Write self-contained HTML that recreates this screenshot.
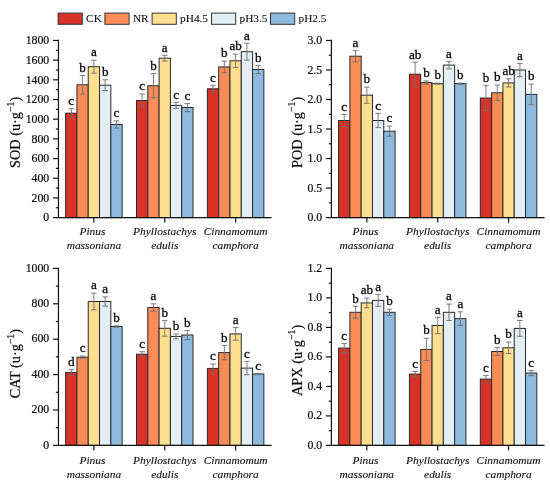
<!DOCTYPE html>
<html><head><meta charset="utf-8"><style>
html,body{margin:0;padding:0;background:#fff;}
svg{display:block;filter:blur(0.35px);}
text{font-family:"Liberation Serif",serif;fill:#0a0a0a;stroke:#0a0a0a;stroke-width:0.2px;}
.t{font-size:11.8px;text-anchor:end;}
.l{stroke-width:0.3px;font-size:13.1px;text-anchor:middle;}
.c{stroke-width:0.1px;font-size:11.4px;text-anchor:middle;font-style:italic;}
.y{font-size:14.3px;text-anchor:middle;}
.g{stroke-width:0.08px;font-size:11.3px;}
</style></head><body>
<svg width="550" height="486" viewBox="0 0 550 486">
<rect x="65.63" y="113.2" width="11.3" height="104.4" fill="#d93229" stroke="#2a2a2a" stroke-width="1.0"/>
<rect x="76.93" y="84.8" width="11.3" height="132.8" fill="#fb8c58" stroke="#2a2a2a" stroke-width="1.0"/>
<rect x="88.23" y="66.7" width="11.3" height="150.9" fill="#fedf8f" stroke="#2a2a2a" stroke-width="1.0"/>
<rect x="99.53" y="85.2" width="11.3" height="132.4" fill="#e3eef5" stroke="#2a2a2a" stroke-width="1.0"/>
<rect x="110.83" y="124.5" width="11.3" height="93.1" fill="#8dbade" stroke="#2a2a2a" stroke-width="1.0"/>
<path d="M71.28 108.8V117.6M68.48 108.8H74.08M68.48 117.6H74.08" stroke="#6e6e6e" stroke-width="0.9" fill="none"/>
<text x="71.28" y="105" class="l">c</text>
<path d="M82.58 75.5V94.1M79.78 75.5H85.38M79.78 94.1H85.38" stroke="#6e6e6e" stroke-width="0.9" fill="none"/>
<text x="82.58" y="71.7" class="l">b</text>
<path d="M93.88 60.2V73.2M91.08 60.2H96.68M91.08 73.2H96.68" stroke="#6e6e6e" stroke-width="0.9" fill="none"/>
<text x="93.88" y="56.4" class="l">a</text>
<path d="M105.18 79.8V90.6M102.38 79.8H107.98M102.38 90.6H107.98" stroke="#6e6e6e" stroke-width="0.9" fill="none"/>
<text x="105.18" y="76" class="l">b</text>
<path d="M116.48 120.9V128.1M113.68 120.9H119.28M113.68 128.1H119.28" stroke="#6e6e6e" stroke-width="0.9" fill="none"/>
<text x="116.48" y="117.1" class="l">c</text>
<rect x="136.5" y="100.5" width="11.3" height="117.1" fill="#d93229" stroke="#2a2a2a" stroke-width="1.0"/>
<rect x="147.8" y="85.7" width="11.3" height="131.9" fill="#fb8c58" stroke="#2a2a2a" stroke-width="1.0"/>
<rect x="159.1" y="58.2" width="11.3" height="159.4" fill="#fedf8f" stroke="#2a2a2a" stroke-width="1.0"/>
<rect x="170.4" y="105.4" width="11.3" height="112.2" fill="#e3eef5" stroke="#2a2a2a" stroke-width="1.0"/>
<rect x="181.7" y="107.5" width="11.3" height="110.1" fill="#8dbade" stroke="#2a2a2a" stroke-width="1.0"/>
<path d="M142.15 94V107M139.35 94H144.95M139.35 107H144.95" stroke="#6e6e6e" stroke-width="0.9" fill="none"/>
<text x="142.15" y="90.2" class="l">c</text>
<path d="M153.45 73.6V97.8M150.65 73.6H156.25M150.65 97.8H156.25" stroke="#6e6e6e" stroke-width="0.9" fill="none"/>
<text x="153.45" y="69.8" class="l">b</text>
<path d="M164.75 55.3V61.1M161.95 55.3H167.55M161.95 61.1H167.55" stroke="#6e6e6e" stroke-width="0.9" fill="none"/>
<text x="164.75" y="51.5" class="l">a</text>
<path d="M176.05 102.3V108.5M173.25 102.3H178.85M173.25 108.5H178.85" stroke="#6e6e6e" stroke-width="0.9" fill="none"/>
<text x="176.05" y="98.5" class="l">c</text>
<path d="M187.35 103.4V111.6M184.55 103.4H190.15M184.55 111.6H190.15" stroke="#6e6e6e" stroke-width="0.9" fill="none"/>
<text x="187.35" y="99.6" class="l">c</text>
<rect x="207.37" y="88.8" width="11.3" height="128.8" fill="#d93229" stroke="#2a2a2a" stroke-width="1.0"/>
<rect x="218.67" y="66.9" width="11.3" height="150.7" fill="#fb8c58" stroke="#2a2a2a" stroke-width="1.0"/>
<rect x="229.97" y="60.8" width="11.3" height="156.8" fill="#fedf8f" stroke="#2a2a2a" stroke-width="1.0"/>
<rect x="241.27" y="51.7" width="11.3" height="165.9" fill="#e3eef5" stroke="#2a2a2a" stroke-width="1.0"/>
<rect x="252.57" y="69.5" width="11.3" height="148.1" fill="#8dbade" stroke="#2a2a2a" stroke-width="1.0"/>
<path d="M213.02 85.3V92.3M210.22 85.3H215.82M210.22 92.3H215.82" stroke="#6e6e6e" stroke-width="0.9" fill="none"/>
<text x="213.02" y="81.5" class="l">c</text>
<path d="M224.32 61.1V72.7M221.52 61.1H227.12M221.52 72.7H227.12" stroke="#6e6e6e" stroke-width="0.9" fill="none"/>
<text x="224.32" y="57.3" class="l">b</text>
<path d="M235.62 54.2V67.4M232.82 54.2H238.42M232.82 67.4H238.42" stroke="#6e6e6e" stroke-width="0.9" fill="none"/>
<text x="235.62" y="50.4" class="l">ab</text>
<path d="M246.92 43.3V60.1M244.12 43.3H249.72M244.12 60.1H249.72" stroke="#6e6e6e" stroke-width="0.9" fill="none"/>
<text x="246.92" y="39.5" class="l">a</text>
<path d="M258.22 65.4V73.6M255.42 65.4H261.02M255.42 73.6H261.02" stroke="#6e6e6e" stroke-width="0.9" fill="none"/>
<text x="258.22" y="61.6" class="l">b</text>
<path d="M58.45 40.45V217.6H271.05" stroke="#111" stroke-width="1.2" fill="none" stroke-linecap="square"/>
<path d="M52.95 217.6H58.45" stroke="#111" stroke-width="1.2"/>
<text x="49.25" y="221.4" class="t">0</text>
<path d="M55.85 207.76H58.45" stroke="#111" stroke-width="1.2"/>
<path d="M52.95 197.92H58.45" stroke="#111" stroke-width="1.2"/>
<text x="49.25" y="201.72" class="t">200</text>
<path d="M55.85 188.07H58.45" stroke="#111" stroke-width="1.2"/>
<path d="M52.95 178.23H58.45" stroke="#111" stroke-width="1.2"/>
<text x="49.25" y="182.03" class="t">400</text>
<path d="M55.85 168.39H58.45" stroke="#111" stroke-width="1.2"/>
<path d="M52.95 158.55H58.45" stroke="#111" stroke-width="1.2"/>
<text x="49.25" y="162.35" class="t">600</text>
<path d="M55.85 148.71H58.45" stroke="#111" stroke-width="1.2"/>
<path d="M52.95 138.87H58.45" stroke="#111" stroke-width="1.2"/>
<text x="49.25" y="142.67" class="t">800</text>
<path d="M55.85 129.03H58.45" stroke="#111" stroke-width="1.2"/>
<path d="M52.95 119.18H58.45" stroke="#111" stroke-width="1.2"/>
<text x="49.25" y="122.98" class="t">1000</text>
<path d="M55.85 109.34H58.45" stroke="#111" stroke-width="1.2"/>
<path d="M52.95 99.5H58.45" stroke="#111" stroke-width="1.2"/>
<text x="49.25" y="103.3" class="t">1200</text>
<path d="M55.85 89.66H58.45" stroke="#111" stroke-width="1.2"/>
<path d="M52.95 79.82H58.45" stroke="#111" stroke-width="1.2"/>
<text x="49.25" y="83.62" class="t">1400</text>
<path d="M55.85 69.98H58.45" stroke="#111" stroke-width="1.2"/>
<path d="M52.95 60.13H58.45" stroke="#111" stroke-width="1.2"/>
<text x="49.25" y="63.93" class="t">1600</text>
<path d="M55.85 50.29H58.45" stroke="#111" stroke-width="1.2"/>
<path d="M52.95 40.45H58.45" stroke="#111" stroke-width="1.2"/>
<text x="49.25" y="44.25" class="t">1800</text>
<path d="M93.88 217.6V222.6" stroke="#111" stroke-width="1.2"/>
<text x="92.48" y="235.3" class="c">Pinus</text>
<text x="93.88" y="249.2" class="c">massoniana</text>
<path d="M164.75 217.6V222.6" stroke="#111" stroke-width="1.2"/>
<text x="164.75" y="235.3" class="c">Phyllostachys</text>
<text x="164.75" y="249.2" class="c">edulis</text>
<path d="M235.62 217.6V222.6" stroke="#111" stroke-width="1.2"/>
<text x="235.62" y="235.3" class="c">Cinnamomum</text>
<text x="235.62" y="249.2" class="c">camphora</text>
<text transform="translate(20.35 132.45) rotate(-90)" class="y">SOD (u·g<tspan dy="-6.3" font-size="9.8">−1</tspan><tspan dy="6.3">)</tspan></text>
<rect x="338.58" y="120.5" width="11.3" height="97.1" fill="#d93229" stroke="#2a2a2a" stroke-width="1.0"/>
<rect x="349.88" y="56.2" width="11.3" height="161.4" fill="#fb8c58" stroke="#2a2a2a" stroke-width="1.0"/>
<rect x="361.18" y="95.2" width="11.3" height="122.4" fill="#fedf8f" stroke="#2a2a2a" stroke-width="1.0"/>
<rect x="372.48" y="120.5" width="11.3" height="97.1" fill="#e3eef5" stroke="#2a2a2a" stroke-width="1.0"/>
<rect x="383.78" y="131.2" width="11.3" height="86.4" fill="#8dbade" stroke="#2a2a2a" stroke-width="1.0"/>
<path d="M344.23 114.4V126.6M341.43 114.4H347.03M341.43 126.6H347.03" stroke="#6e6e6e" stroke-width="0.9" fill="none"/>
<text x="344.23" y="110.6" class="l">c</text>
<path d="M355.53 50.7V61.7M352.73 50.7H358.33M352.73 61.7H358.33" stroke="#6e6e6e" stroke-width="0.9" fill="none"/>
<text x="355.53" y="46.9" class="l">a</text>
<path d="M366.83 87.1V103.3M364.03 87.1H369.63M364.03 103.3H369.63" stroke="#6e6e6e" stroke-width="0.9" fill="none"/>
<text x="366.83" y="83.3" class="l">b</text>
<path d="M378.13 113.4V127.6M375.33 113.4H380.93M375.33 127.6H380.93" stroke="#6e6e6e" stroke-width="0.9" fill="none"/>
<text x="378.13" y="109.6" class="l">c</text>
<path d="M389.43 126.2V136.2M386.63 126.2H392.23M386.63 136.2H392.23" stroke="#6e6e6e" stroke-width="0.9" fill="none"/>
<text x="389.43" y="122.4" class="l">c</text>
<rect x="409.45" y="74.2" width="11.3" height="143.4" fill="#d93229" stroke="#2a2a2a" stroke-width="1.0"/>
<rect x="420.75" y="82.6" width="11.3" height="135" fill="#fb8c58" stroke="#2a2a2a" stroke-width="1.0"/>
<rect x="432.05" y="83.7" width="11.3" height="133.9" fill="#fedf8f" stroke="#2a2a2a" stroke-width="1.0"/>
<rect x="443.35" y="65.1" width="11.3" height="152.5" fill="#e3eef5" stroke="#2a2a2a" stroke-width="1.0"/>
<rect x="454.65" y="83.7" width="11.3" height="133.9" fill="#8dbade" stroke="#2a2a2a" stroke-width="1.0"/>
<path d="M415.1 62.3V86.1M412.3 62.3H417.9M412.3 86.1H417.9" stroke="#6e6e6e" stroke-width="0.9" fill="none"/>
<text x="415.1" y="58.5" class="l">ab</text>
<path d="M426.4 80.9V84.3M423.6 80.9H429.2M423.6 84.3H429.2" stroke="#6e6e6e" stroke-width="0.9" fill="none"/>
<text x="426.4" y="77.1" class="l">b</text>
<path d="M437.7 83.1V84.3M434.9 83.1H440.5M434.9 84.3H440.5" stroke="#6e6e6e" stroke-width="0.9" fill="none"/>
<text x="437.7" y="79.3" class="l">b</text>
<path d="M449 61.4V68.8M446.2 61.4H451.8M446.2 68.8H451.8" stroke="#6e6e6e" stroke-width="0.9" fill="none"/>
<text x="449" y="57.6" class="l">a</text>
<path d="M460.3 83.1V84.3M457.5 83.1H463.1M457.5 84.3H463.1" stroke="#6e6e6e" stroke-width="0.9" fill="none"/>
<text x="460.3" y="79.3" class="l">b</text>
<rect x="480.32" y="98" width="11.3" height="119.6" fill="#d93229" stroke="#2a2a2a" stroke-width="1.0"/>
<rect x="491.62" y="92.8" width="11.3" height="124.8" fill="#fb8c58" stroke="#2a2a2a" stroke-width="1.0"/>
<rect x="502.92" y="82.9" width="11.3" height="134.7" fill="#fedf8f" stroke="#2a2a2a" stroke-width="1.0"/>
<rect x="514.22" y="70" width="11.3" height="147.6" fill="#e3eef5" stroke="#2a2a2a" stroke-width="1.0"/>
<rect x="525.52" y="94.4" width="11.3" height="123.2" fill="#8dbade" stroke="#2a2a2a" stroke-width="1.0"/>
<path d="M485.97 85.4V110.6M483.17 85.4H488.77M483.17 110.6H488.77" stroke="#6e6e6e" stroke-width="0.9" fill="none"/>
<text x="485.97" y="81.6" class="l">b</text>
<path d="M497.27 85V100.6M494.47 85H500.07M494.47 100.6H500.07" stroke="#6e6e6e" stroke-width="0.9" fill="none"/>
<text x="497.27" y="81.2" class="l">b</text>
<path d="M508.57 78.8V87M505.77 78.8H511.37M505.77 87H511.37" stroke="#6e6e6e" stroke-width="0.9" fill="none"/>
<text x="508.57" y="75" class="l">ab</text>
<path d="M519.87 63.4V76.6M517.07 63.4H522.67M517.07 76.6H522.67" stroke="#6e6e6e" stroke-width="0.9" fill="none"/>
<text x="519.87" y="59.6" class="l">a</text>
<path d="M531.17 84.1V104.7M528.37 84.1H533.97M528.37 104.7H533.97" stroke="#6e6e6e" stroke-width="0.9" fill="none"/>
<text x="531.17" y="80.3" class="l">b</text>
<path d="M331.4 40.45V217.6H544" stroke="#111" stroke-width="1.2" fill="none" stroke-linecap="square"/>
<path d="M325.9 217.6H331.4" stroke="#111" stroke-width="1.2"/>
<text x="322.2" y="221.4" class="t">0.0</text>
<path d="M328.8 202.84H331.4" stroke="#111" stroke-width="1.2"/>
<path d="M325.9 188.07H331.4" stroke="#111" stroke-width="1.2"/>
<text x="322.2" y="191.88" class="t">0.5</text>
<path d="M328.8 173.31H331.4" stroke="#111" stroke-width="1.2"/>
<path d="M325.9 158.55H331.4" stroke="#111" stroke-width="1.2"/>
<text x="322.2" y="162.35" class="t">1.0</text>
<path d="M328.8 143.79H331.4" stroke="#111" stroke-width="1.2"/>
<path d="M325.9 129.03H331.4" stroke="#111" stroke-width="1.2"/>
<text x="322.2" y="132.83" class="t">1.5</text>
<path d="M328.8 114.26H331.4" stroke="#111" stroke-width="1.2"/>
<path d="M325.9 99.5H331.4" stroke="#111" stroke-width="1.2"/>
<text x="322.2" y="103.3" class="t">2.0</text>
<path d="M328.8 84.74H331.4" stroke="#111" stroke-width="1.2"/>
<path d="M325.9 69.98H331.4" stroke="#111" stroke-width="1.2"/>
<text x="322.2" y="73.78" class="t">2.5</text>
<path d="M328.8 55.21H331.4" stroke="#111" stroke-width="1.2"/>
<path d="M325.9 40.45H331.4" stroke="#111" stroke-width="1.2"/>
<text x="322.2" y="44.25" class="t">3.0</text>
<path d="M366.83 217.6V222.6" stroke="#111" stroke-width="1.2"/>
<text x="365.43" y="235.3" class="c">Pinus</text>
<text x="366.83" y="249.2" class="c">massoniana</text>
<path d="M437.7 217.6V222.6" stroke="#111" stroke-width="1.2"/>
<text x="437.7" y="235.3" class="c">Phyllostachys</text>
<text x="437.7" y="249.2" class="c">edulis</text>
<path d="M508.57 217.6V222.6" stroke="#111" stroke-width="1.2"/>
<text x="508.57" y="235.3" class="c">Cinnamomum</text>
<text x="508.57" y="249.2" class="c">camphora</text>
<text transform="translate(301.7 132.4) rotate(-90)" class="y">POD (u·g<tspan dy="-6.3" font-size="9.8">−1</tspan><tspan dy="6.3">)</tspan></text>
<rect x="65.63" y="372.6" width="11.3" height="72.8" fill="#d93229" stroke="#2a2a2a" stroke-width="1.0"/>
<rect x="76.93" y="357.2" width="11.3" height="88.2" fill="#fb8c58" stroke="#2a2a2a" stroke-width="1.0"/>
<rect x="88.23" y="301.5" width="11.3" height="143.9" fill="#fedf8f" stroke="#2a2a2a" stroke-width="1.0"/>
<rect x="99.53" y="301.5" width="11.3" height="143.9" fill="#e3eef5" stroke="#2a2a2a" stroke-width="1.0"/>
<rect x="110.83" y="326.5" width="11.3" height="118.9" fill="#8dbade" stroke="#2a2a2a" stroke-width="1.0"/>
<path d="M71.28 369.8V375.4M68.48 369.8H74.08M68.48 375.4H74.08" stroke="#6e6e6e" stroke-width="0.9" fill="none"/>
<text x="71.28" y="366" class="l">d</text>
<path d="M82.58 356.1V358.3M79.78 356.1H85.38M79.78 358.3H85.38" stroke="#6e6e6e" stroke-width="0.9" fill="none"/>
<text x="82.58" y="352.3" class="l">c</text>
<path d="M93.88 293.2V309.8M91.08 293.2H96.68M91.08 309.8H96.68" stroke="#6e6e6e" stroke-width="0.9" fill="none"/>
<text x="93.88" y="289.4" class="l">a</text>
<path d="M105.18 296.9V306.1M102.38 296.9H107.98M102.38 306.1H107.98" stroke="#6e6e6e" stroke-width="0.9" fill="none"/>
<text x="105.18" y="293.1" class="l">a</text>
<path d="M116.48 325.8V327.2M113.68 325.8H119.28M113.68 327.2H119.28" stroke="#6e6e6e" stroke-width="0.9" fill="none"/>
<text x="116.48" y="322" class="l">b</text>
<rect x="136.5" y="354.2" width="11.3" height="91.2" fill="#d93229" stroke="#2a2a2a" stroke-width="1.0"/>
<rect x="147.8" y="307.5" width="11.3" height="137.9" fill="#fb8c58" stroke="#2a2a2a" stroke-width="1.0"/>
<rect x="159.1" y="328.3" width="11.3" height="117.1" fill="#fedf8f" stroke="#2a2a2a" stroke-width="1.0"/>
<rect x="170.4" y="336.4" width="11.3" height="109" fill="#e3eef5" stroke="#2a2a2a" stroke-width="1.0"/>
<rect x="181.7" y="335" width="11.3" height="110.4" fill="#8dbade" stroke="#2a2a2a" stroke-width="1.0"/>
<path d="M142.15 351.7V356.7M139.35 351.7H144.95M139.35 356.7H144.95" stroke="#6e6e6e" stroke-width="0.9" fill="none"/>
<text x="142.15" y="347.9" class="l">c</text>
<path d="M153.45 303.8V311.2M150.65 303.8H156.25M150.65 311.2H156.25" stroke="#6e6e6e" stroke-width="0.9" fill="none"/>
<text x="153.45" y="300" class="l">a</text>
<path d="M164.75 320.4V336.2M161.95 320.4H167.55M161.95 336.2H167.55" stroke="#6e6e6e" stroke-width="0.9" fill="none"/>
<text x="164.75" y="316.6" class="l">b</text>
<path d="M176.05 333.9V338.9M173.25 333.9H178.85M173.25 338.9H178.85" stroke="#6e6e6e" stroke-width="0.9" fill="none"/>
<text x="176.05" y="330.1" class="l">b</text>
<path d="M187.35 330.4V339.6M184.55 330.4H190.15M184.55 339.6H190.15" stroke="#6e6e6e" stroke-width="0.9" fill="none"/>
<text x="187.35" y="326.6" class="l">b</text>
<rect x="207.37" y="368.4" width="11.3" height="77" fill="#d93229" stroke="#2a2a2a" stroke-width="1.0"/>
<rect x="218.67" y="352.6" width="11.3" height="92.8" fill="#fb8c58" stroke="#2a2a2a" stroke-width="1.0"/>
<rect x="229.97" y="333.9" width="11.3" height="111.5" fill="#fedf8f" stroke="#2a2a2a" stroke-width="1.0"/>
<rect x="241.27" y="368.1" width="11.3" height="77.3" fill="#e3eef5" stroke="#2a2a2a" stroke-width="1.0"/>
<rect x="252.57" y="374" width="11.3" height="71.4" fill="#8dbade" stroke="#2a2a2a" stroke-width="1.0"/>
<path d="M213.02 364V372.8M210.22 364H215.82M210.22 372.8H215.82" stroke="#6e6e6e" stroke-width="0.9" fill="none"/>
<text x="213.02" y="360.2" class="l">c</text>
<path d="M224.32 345.4V359.8M221.52 345.4H227.12M221.52 359.8H227.12" stroke="#6e6e6e" stroke-width="0.9" fill="none"/>
<text x="224.32" y="341.6" class="l">b</text>
<path d="M235.62 327.6V340.2M232.82 327.6H238.42M232.82 340.2H238.42" stroke="#6e6e6e" stroke-width="0.9" fill="none"/>
<text x="235.62" y="323.8" class="l">a</text>
<path d="M246.92 361.4V374.8M244.12 361.4H249.72M244.12 374.8H249.72" stroke="#6e6e6e" stroke-width="0.9" fill="none"/>
<text x="246.92" y="357.6" class="l">c</text>
<path d="M258.22 373.3V374.7M255.42 373.3H261.02M255.42 374.7H261.02" stroke="#6e6e6e" stroke-width="0.9" fill="none"/>
<text x="258.22" y="369.5" class="l">c</text>
<path d="M58.45 268.4V445.4H271.05" stroke="#111" stroke-width="1.2" fill="none" stroke-linecap="square"/>
<path d="M52.95 445.4H58.45" stroke="#111" stroke-width="1.2"/>
<text x="49.25" y="448.5" class="t">0</text>
<path d="M55.85 427.7H58.45" stroke="#111" stroke-width="1.2"/>
<path d="M52.95 410H58.45" stroke="#111" stroke-width="1.2"/>
<text x="49.25" y="413.1" class="t">200</text>
<path d="M55.85 392.3H58.45" stroke="#111" stroke-width="1.2"/>
<path d="M52.95 374.6H58.45" stroke="#111" stroke-width="1.2"/>
<text x="49.25" y="377.7" class="t">400</text>
<path d="M55.85 356.9H58.45" stroke="#111" stroke-width="1.2"/>
<path d="M52.95 339.2H58.45" stroke="#111" stroke-width="1.2"/>
<text x="49.25" y="342.3" class="t">600</text>
<path d="M55.85 321.5H58.45" stroke="#111" stroke-width="1.2"/>
<path d="M52.95 303.8H58.45" stroke="#111" stroke-width="1.2"/>
<text x="49.25" y="306.9" class="t">800</text>
<path d="M55.85 286.1H58.45" stroke="#111" stroke-width="1.2"/>
<path d="M52.95 268.4H58.45" stroke="#111" stroke-width="1.2"/>
<text x="49.25" y="271.5" class="t">1000</text>
<path d="M93.88 445.4V450.4" stroke="#111" stroke-width="1.2"/>
<text x="92.48" y="463.6" class="c">Pinus</text>
<text x="93.88" y="478.2" class="c">massoniana</text>
<path d="M164.75 445.4V450.4" stroke="#111" stroke-width="1.2"/>
<text x="164.75" y="463.6" class="c">Phyllostachys</text>
<text x="164.75" y="478.2" class="c">edulis</text>
<path d="M235.62 445.4V450.4" stroke="#111" stroke-width="1.2"/>
<text x="235.62" y="463.6" class="c">Cinnamomum</text>
<text x="235.62" y="478.2" class="c">camphora</text>
<text transform="translate(20.35 363.65) rotate(-90)" class="y">CAT (u·g<tspan dy="-6.3" font-size="9.8">−1</tspan><tspan dy="6.3">)</tspan></text>
<rect x="338.58" y="348.1" width="11.3" height="97.3" fill="#d93229" stroke="#2a2a2a" stroke-width="1.0"/>
<rect x="349.88" y="312.3" width="11.3" height="133.1" fill="#fb8c58" stroke="#2a2a2a" stroke-width="1.0"/>
<rect x="361.18" y="302.9" width="11.3" height="142.5" fill="#fedf8f" stroke="#2a2a2a" stroke-width="1.0"/>
<rect x="372.48" y="300.4" width="11.3" height="145" fill="#e3eef5" stroke="#2a2a2a" stroke-width="1.0"/>
<rect x="383.78" y="312.3" width="11.3" height="133.1" fill="#8dbade" stroke="#2a2a2a" stroke-width="1.0"/>
<path d="M344.23 343.4V352.8M341.43 343.4H347.03M341.43 352.8H347.03" stroke="#6e6e6e" stroke-width="0.9" fill="none"/>
<text x="344.23" y="339.6" class="l">c</text>
<path d="M355.53 306.3V318.3M352.73 306.3H358.33M352.73 318.3H358.33" stroke="#6e6e6e" stroke-width="0.9" fill="none"/>
<text x="355.53" y="302.5" class="l">b</text>
<path d="M366.83 298V307.8M364.03 298H369.63M364.03 307.8H369.63" stroke="#6e6e6e" stroke-width="0.9" fill="none"/>
<text x="366.83" y="294.2" class="l">ab</text>
<path d="M378.13 294.4V306.4M375.33 294.4H380.93M375.33 306.4H380.93" stroke="#6e6e6e" stroke-width="0.9" fill="none"/>
<text x="378.13" y="290.6" class="l">a</text>
<path d="M389.43 309.2V315.4M386.63 309.2H392.23M386.63 315.4H392.23" stroke="#6e6e6e" stroke-width="0.9" fill="none"/>
<text x="389.43" y="305.4" class="l">b</text>
<rect x="409.45" y="374.1" width="11.3" height="71.3" fill="#d93229" stroke="#2a2a2a" stroke-width="1.0"/>
<rect x="420.75" y="349.4" width="11.3" height="96" fill="#fb8c58" stroke="#2a2a2a" stroke-width="1.0"/>
<rect x="432.05" y="325.5" width="11.3" height="119.9" fill="#fedf8f" stroke="#2a2a2a" stroke-width="1.0"/>
<rect x="443.35" y="312.3" width="11.3" height="133.1" fill="#e3eef5" stroke="#2a2a2a" stroke-width="1.0"/>
<rect x="454.65" y="318.6" width="11.3" height="126.8" fill="#8dbade" stroke="#2a2a2a" stroke-width="1.0"/>
<path d="M415.1 371.5V376.7M412.3 371.5H417.9M412.3 376.7H417.9" stroke="#6e6e6e" stroke-width="0.9" fill="none"/>
<text x="415.1" y="367.7" class="l">c</text>
<path d="M426.4 338.2V360.6M423.6 338.2H429.2M423.6 360.6H429.2" stroke="#6e6e6e" stroke-width="0.9" fill="none"/>
<text x="426.4" y="334.4" class="l">b</text>
<path d="M437.7 317.3V333.7M434.9 317.3H440.5M434.9 333.7H440.5" stroke="#6e6e6e" stroke-width="0.9" fill="none"/>
<text x="437.7" y="313.5" class="l">a</text>
<path d="M449 304.1V320.5M446.2 304.1H451.8M446.2 320.5H451.8" stroke="#6e6e6e" stroke-width="0.9" fill="none"/>
<text x="449" y="300.3" class="l">a</text>
<path d="M460.3 311.8V325.4M457.5 311.8H463.1M457.5 325.4H463.1" stroke="#6e6e6e" stroke-width="0.9" fill="none"/>
<text x="460.3" y="308" class="l">a</text>
<rect x="480.32" y="379.1" width="11.3" height="66.3" fill="#d93229" stroke="#2a2a2a" stroke-width="1.0"/>
<rect x="491.62" y="351.5" width="11.3" height="93.9" fill="#fb8c58" stroke="#2a2a2a" stroke-width="1.0"/>
<rect x="502.92" y="347.8" width="11.3" height="97.6" fill="#fedf8f" stroke="#2a2a2a" stroke-width="1.0"/>
<rect x="514.22" y="328.4" width="11.3" height="117" fill="#e3eef5" stroke="#2a2a2a" stroke-width="1.0"/>
<rect x="525.52" y="373" width="11.3" height="72.4" fill="#8dbade" stroke="#2a2a2a" stroke-width="1.0"/>
<path d="M485.97 375.4V382.8M483.17 375.4H488.77M483.17 382.8H488.77" stroke="#6e6e6e" stroke-width="0.9" fill="none"/>
<text x="485.97" y="371.6" class="l">c</text>
<path d="M497.27 347.7V355.3M494.47 347.7H500.07M494.47 355.3H500.07" stroke="#6e6e6e" stroke-width="0.9" fill="none"/>
<text x="497.27" y="343.9" class="l">b</text>
<path d="M508.57 342.1V353.5M505.77 342.1H511.37M505.77 353.5H511.37" stroke="#6e6e6e" stroke-width="0.9" fill="none"/>
<text x="508.57" y="338.3" class="l">b</text>
<path d="M519.87 320.5V336.3M517.07 320.5H522.67M517.07 336.3H522.67" stroke="#6e6e6e" stroke-width="0.9" fill="none"/>
<text x="519.87" y="316.7" class="l">a</text>
<path d="M531.17 370.4V375.6M528.37 370.4H533.97M528.37 375.6H533.97" stroke="#6e6e6e" stroke-width="0.9" fill="none"/>
<text x="531.17" y="366.6" class="l">c</text>
<path d="M331.4 268.4V445.4H544" stroke="#111" stroke-width="1.2" fill="none" stroke-linecap="square"/>
<path d="M325.9 445.4H331.4" stroke="#111" stroke-width="1.2"/>
<text x="322.2" y="448.5" class="t">0.0</text>
<path d="M328.8 430.65H331.4" stroke="#111" stroke-width="1.2"/>
<path d="M325.9 415.9H331.4" stroke="#111" stroke-width="1.2"/>
<text x="322.2" y="419" class="t">0.2</text>
<path d="M328.8 401.15H331.4" stroke="#111" stroke-width="1.2"/>
<path d="M325.9 386.4H331.4" stroke="#111" stroke-width="1.2"/>
<text x="322.2" y="389.5" class="t">0.4</text>
<path d="M328.8 371.65H331.4" stroke="#111" stroke-width="1.2"/>
<path d="M325.9 356.9H331.4" stroke="#111" stroke-width="1.2"/>
<text x="322.2" y="360" class="t">0.6</text>
<path d="M328.8 342.15H331.4" stroke="#111" stroke-width="1.2"/>
<path d="M325.9 327.4H331.4" stroke="#111" stroke-width="1.2"/>
<text x="322.2" y="330.5" class="t">0.8</text>
<path d="M328.8 312.65H331.4" stroke="#111" stroke-width="1.2"/>
<path d="M325.9 297.9H331.4" stroke="#111" stroke-width="1.2"/>
<text x="322.2" y="301" class="t">1.0</text>
<path d="M328.8 283.15H331.4" stroke="#111" stroke-width="1.2"/>
<path d="M325.9 268.4H331.4" stroke="#111" stroke-width="1.2"/>
<text x="322.2" y="271.5" class="t">1.2</text>
<path d="M366.83 445.4V450.4" stroke="#111" stroke-width="1.2"/>
<text x="365.43" y="463.6" class="c">Pinus</text>
<text x="366.83" y="478.2" class="c">massoniana</text>
<path d="M437.7 445.4V450.4" stroke="#111" stroke-width="1.2"/>
<text x="437.7" y="463.6" class="c">Phyllostachys</text>
<text x="437.7" y="478.2" class="c">edulis</text>
<path d="M508.57 445.4V450.4" stroke="#111" stroke-width="1.2"/>
<text x="508.57" y="463.6" class="c">Cinnamomum</text>
<text x="508.57" y="478.2" class="c">camphora</text>
<text transform="translate(301.7 360.4) rotate(-90)" class="y">APX (u·g<tspan dy="-6.3" font-size="9.8">−1</tspan><tspan dy="6.3">)</tspan></text>
<rect x="58.1" y="13.1" width="24.2" height="11.2" fill="#d93229" stroke="#333" stroke-width="1"/>
<text x="86.1" y="22.2" class="g">CK</text>
<rect x="104.9" y="13.1" width="24.2" height="11.2" fill="#fb8c58" stroke="#333" stroke-width="1"/>
<text x="132.9" y="22.2" class="g">NR</text>
<rect x="152.1" y="13.1" width="24.2" height="11.2" fill="#fedf8f" stroke="#333" stroke-width="1"/>
<text x="180.1" y="22.2" class="g">pH4.5</text>
<rect x="211.5" y="13.1" width="24.2" height="11.2" fill="#e3eef5" stroke="#333" stroke-width="1"/>
<text x="239.5" y="22.2" class="g">pH3.5</text>
<rect x="270.5" y="13.1" width="24.2" height="11.2" fill="#8dbade" stroke="#333" stroke-width="1"/>
<text x="298.5" y="22.2" class="g">pH2.5</text>
</svg>
</body></html>
